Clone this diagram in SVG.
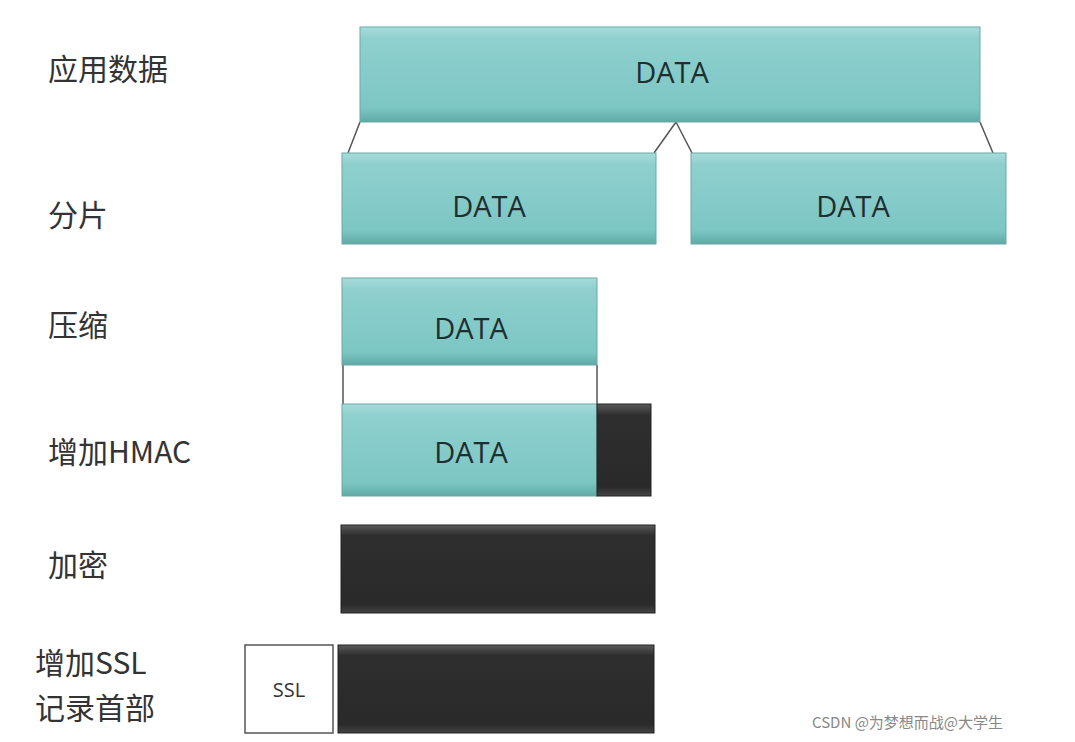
<svg xmlns="http://www.w3.org/2000/svg" width="1075" height="742" viewBox="0 0 1075 742">
<defs>
<linearGradient id="teal" x1="0" y1="0" x2="0" y2="1">
<stop offset="0" stop-color="#a8dcdb"/><stop offset="0.12" stop-color="#8fd0ce"/><stop offset="0.85" stop-color="#7cc6c4"/><stop offset="1" stop-color="#5fa9a7"/>
</linearGradient>
<linearGradient id="dark" x1="0" y1="0" x2="0" y2="1">
<stop offset="0" stop-color="#5a5a5a"/><stop offset="0.12" stop-color="#2e2e2e"/><stop offset="0.9" stop-color="#2a2a2a"/><stop offset="1" stop-color="#444"/>
</linearGradient>
<style>
.lbl{font-family:"Noto Sans CJK SC","Liberation Sans",sans-serif;font-size:30px;fill:#333}
.dt{font-family:"Open Sans","Liberation Sans",sans-serif;font-size:29px;fill:#1f2f2f;text-anchor:middle}
.t{fill:url(#teal);stroke:#6aa9a7;stroke-width:1}
.d{fill:url(#dark);stroke:#222;stroke-width:1}
.c{stroke:#555;stroke-width:1.5;fill:none}
</style>
</defs>
<rect width="1075" height="742" fill="#fff"/>
<g id="labels">
<text class="lbl" x="48" y="80">应用数据</text>
<text class="lbl" x="48" y="226">分片</text>
<text class="lbl" x="48" y="336">压缩</text>
<text class="lbl" x="48" y="463">增加HMAC</text>
<text class="lbl" x="48" y="576">加密</text>
<text class="lbl" x="35" y="674">增加SSL</text>
<text class="lbl" x="35" y="719">记录首部</text>
</g>
<g id="connectors">
<path class="c" d="M360 122 L348 153 M676 122 L654 153 M676 122 L692 153 M980 122 L993 153"/>
<path class="c" d="M343 365 L343 405 M597 365 L597 405"/>
</g>
<g id="app-data"><rect class="t" x="360" y="27" width="620" height="95"/><text class="dt" x="672" y="83">DATA</text></g>
<g id="frag1"><rect class="t" x="342" y="153" width="314" height="91"/><text class="dt" x="489" y="217">DATA</text></g>
<g id="frag2"><rect class="t" x="691" y="153" width="315" height="91"/><text class="dt" x="853" y="217">DATA</text></g>
<g id="compress"><rect class="t" x="342" y="278" width="255" height="87"/><text class="dt" x="471" y="339">DATA</text></g>
<g id="hmac-data"><rect class="t" x="342" y="404" width="255" height="92"/><text class="dt" x="471" y="463">DATA</text></g>
<g id="hmac"><rect class="d" x="597" y="404" width="54" height="92"/></g>
<g id="encrypt"><rect class="d" x="341" y="525" width="314" height="88"/></g>
<g id="ssl"><rect x="245" y="645" width="88" height="88" fill="#fff" stroke="#555" stroke-width="1.5"/><text x="289" y="697" text-anchor="middle" style="font-family:'Open Sans','Liberation Sans',sans-serif;font-size:20px;fill:#333">SSL</text></g>
<g id="record"><rect class="d" x="338" y="645" width="316" height="88"/></g>
<text x="812" y="728" style="font-family:'Noto Sans CJK SC','Liberation Sans',sans-serif;font-size:15px;fill:#888">CSDN @为梦想而战@大学生</text>
</svg>
